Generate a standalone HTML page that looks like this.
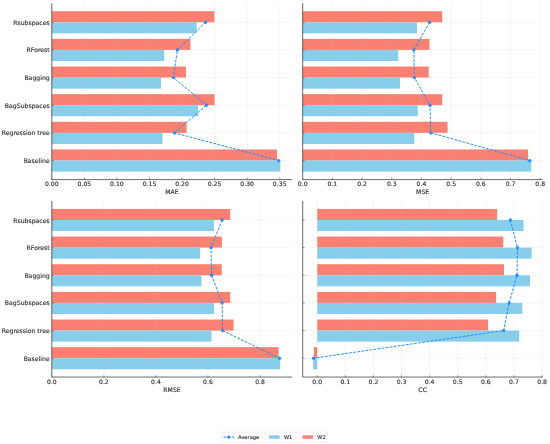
<!DOCTYPE html>
<html><head><meta charset="utf-8"><title>Chart</title>
<style>html,body{margin:0;padding:0;background:#fff}svg{display:block;text-rendering:geometricPrecision}</style>
</head><body>
<svg width="550" height="444" viewBox="0 0 5500 4440" font-family="'DejaVu Sans','Liberation Sans',sans-serif">
<g>
<rect x="518" y="112.2" width="1626" height="110.6" fill="#FA8072"/>
<rect x="518" y="222.8" width="1448.3" height="110.6" fill="#87CEEB"/>
<rect x="518" y="388.7" width="1386.4" height="110.6" fill="#FA8072"/>
<rect x="518" y="499.3" width="1124" height="110.6" fill="#87CEEB"/>
<rect x="518" y="665.2" width="1341.5" height="110.6" fill="#FA8072"/>
<rect x="518" y="775.8" width="1091.4" height="110.6" fill="#87CEEB"/>
<rect x="518" y="941.7" width="1628" height="110.6" fill="#FA8072"/>
<rect x="518" y="1052.3" width="1463.2" height="110.6" fill="#87CEEB"/>
<rect x="518" y="1218.2" width="1348.6" height="110.6" fill="#FA8072"/>
<rect x="518" y="1328.8" width="1107" height="110.6" fill="#87CEEB"/>
<rect x="518" y="1494.7" width="2253.2" height="110.6" fill="#FA8072"/>
<rect x="518" y="1605.3" width="2285.7" height="110.6" fill="#87CEEB"/>
<path d="M518 32V1796.1M843.6 32V1796.1M1169.2 32V1796.1M1494.8 32V1796.1M1820.4 32V1796.1M2146 32V1796.1M2471.6 32V1796.1M2797.2 32V1796.1M518 222.8H2922M518 499.3H2922M518 775.8H2922M518 1052.3H2922M518 1328.8H2922M518 1605.3H2922" stroke="#c4c4c4" stroke-opacity="0.42" stroke-width="4" fill="none"/>
<path d="M2055.2 222.8L1773.2 499.3L1734.4 775.8L2063.6 1052.3L1745.8 1328.8L2787.4 1605.3" stroke="#1E90FF" stroke-width="10" stroke-dasharray="27.5 13.5" fill="none"/>
<circle cx="2055.2" cy="222.8" r="16.5" fill="#1E90FF"/>
<circle cx="1773.2" cy="499.3" r="16.5" fill="#1E90FF"/>
<circle cx="1734.4" cy="775.8" r="16.5" fill="#1E90FF"/>
<circle cx="2063.6" cy="1052.3" r="16.5" fill="#1E90FF"/>
<circle cx="1745.8" cy="1328.8" r="16.5" fill="#1E90FF"/>
<circle cx="2787.4" cy="1605.3" r="16.5" fill="#1E90FF"/>
<path d="M518 32V1796.1H2922" stroke="#444444" stroke-width="8" fill="none"/>
<path d="M518 1796.1v-20M843.6 1796.1v-20M1169.2 1796.1v-20M1494.8 1796.1v-20M1820.4 1796.1v-20M2146 1796.1v-20M2471.6 1796.1v-20M2797.2 1796.1v-20M518 222.8h20M518 499.3h20M518 775.8h20M518 1052.3h20M518 1328.8h20M518 1605.3h20" stroke="#444444" stroke-width="5" fill="none"/>
<text x="518" y="1860.1" font-size="61.5" text-anchor="middle" fill="#333333" stroke="#333333" stroke-width="1.5">0.00</text>
<text x="843.6" y="1860.1" font-size="61.5" text-anchor="middle" fill="#333333" stroke="#333333" stroke-width="1.5">0.05</text>
<text x="1169.2" y="1860.1" font-size="61.5" text-anchor="middle" fill="#333333" stroke="#333333" stroke-width="1.5">0.10</text>
<text x="1494.8" y="1860.1" font-size="61.5" text-anchor="middle" fill="#333333" stroke="#333333" stroke-width="1.5">0.15</text>
<text x="1820.4" y="1860.1" font-size="61.5" text-anchor="middle" fill="#333333" stroke="#333333" stroke-width="1.5">0.20</text>
<text x="2146" y="1860.1" font-size="61.5" text-anchor="middle" fill="#333333" stroke="#333333" stroke-width="1.5">0.25</text>
<text x="2471.6" y="1860.1" font-size="61.5" text-anchor="middle" fill="#333333" stroke="#333333" stroke-width="1.5">0.30</text>
<text x="2797.2" y="1860.1" font-size="61.5" text-anchor="middle" fill="#333333" stroke="#333333" stroke-width="1.5">0.35</text>
<text x="497" y="248.3" font-size="61.5" text-anchor="end" fill="#333333" stroke="#333333" stroke-width="1.5">Rsubspaces</text>
<text x="497" y="524.8" font-size="61.5" text-anchor="end" fill="#333333" stroke="#333333" stroke-width="1.5">RForest</text>
<text x="497" y="801.3" font-size="61.5" text-anchor="end" fill="#333333" stroke="#333333" stroke-width="1.5">Bagging</text>
<text x="497" y="1077.8" font-size="61.5" text-anchor="end" fill="#333333" stroke="#333333" stroke-width="1.5">BagSubspaces</text>
<text x="497" y="1354.3" font-size="61.5" text-anchor="end" fill="#333333" stroke="#333333" stroke-width="1.5">Regression tree</text>
<text x="497" y="1630.8" font-size="61.5" text-anchor="end" fill="#333333" stroke="#333333" stroke-width="1.5">Baseline</text>
<text x="1720" y="1941.1" font-size="61.5" text-anchor="middle" fill="#333333" stroke="#333333" stroke-width="1.5">MAE</text>
</g>
<g>
<rect x="3027" y="112.2" width="1395.1" height="110.6" fill="#FA8072"/>
<rect x="3027" y="222.8" width="1143.1" height="110.6" fill="#87CEEB"/>
<rect x="3027" y="388.7" width="1267.8" height="110.6" fill="#FA8072"/>
<rect x="3027" y="499.3" width="954.8" height="110.6" fill="#87CEEB"/>
<rect x="3027" y="665.2" width="1260" height="110.6" fill="#FA8072"/>
<rect x="3027" y="775.8" width="972.6" height="110.6" fill="#87CEEB"/>
<rect x="3027" y="941.7" width="1395.1" height="110.6" fill="#FA8072"/>
<rect x="3027" y="1052.3" width="1150.8" height="110.6" fill="#87CEEB"/>
<rect x="3027" y="1218.2" width="1448.6" height="110.6" fill="#FA8072"/>
<rect x="3027" y="1328.8" width="1115.2" height="110.6" fill="#87CEEB"/>
<rect x="3027" y="1494.7" width="2253.5" height="110.6" fill="#FA8072"/>
<rect x="3027" y="1605.3" width="2286.1" height="110.6" fill="#87CEEB"/>
<path d="M3027 32V1796.1M3323.9 32V1796.1M3620.8 32V1796.1M3917.7 32V1796.1M4214.6 32V1796.1M4511.5 32V1796.1M4808.4 32V1796.1M5105.3 32V1796.1M5402.2 32V1796.1M3027 222.8H5426M3027 499.3H5426M3027 775.8H5426M3027 1052.3H5426M3027 1328.8H5426M3027 1605.3H5426" stroke="#c4c4c4" stroke-opacity="0.42" stroke-width="4" fill="none"/>
<path d="M4296.1 222.8L4138.3 499.3L4143.3 775.8L4300 1052.3L4308.9 1328.8L5296.8 1605.3" stroke="#1E90FF" stroke-width="10" stroke-dasharray="27.5 13.5" fill="none"/>
<circle cx="4296.1" cy="222.8" r="16.5" fill="#1E90FF"/>
<circle cx="4138.3" cy="499.3" r="16.5" fill="#1E90FF"/>
<circle cx="4143.3" cy="775.8" r="16.5" fill="#1E90FF"/>
<circle cx="4300" cy="1052.3" r="16.5" fill="#1E90FF"/>
<circle cx="4308.9" cy="1328.8" r="16.5" fill="#1E90FF"/>
<circle cx="5296.8" cy="1605.3" r="16.5" fill="#1E90FF"/>
<path d="M3027 32V1796.1H5426" stroke="#444444" stroke-width="8" fill="none"/>
<path d="M3027 1796.1v-20M3323.9 1796.1v-20M3620.8 1796.1v-20M3917.7 1796.1v-20M4214.6 1796.1v-20M4511.5 1796.1v-20M4808.4 1796.1v-20M5105.3 1796.1v-20M5402.2 1796.1v-20M3027 222.8h20M3027 499.3h20M3027 775.8h20M3027 1052.3h20M3027 1328.8h20M3027 1605.3h20" stroke="#444444" stroke-width="5" fill="none"/>
<text x="3027" y="1860.1" font-size="61.5" text-anchor="middle" fill="#333333" stroke="#333333" stroke-width="1.5">0.0</text>
<text x="3323.9" y="1860.1" font-size="61.5" text-anchor="middle" fill="#333333" stroke="#333333" stroke-width="1.5">0.1</text>
<text x="3620.8" y="1860.1" font-size="61.5" text-anchor="middle" fill="#333333" stroke="#333333" stroke-width="1.5">0.2</text>
<text x="3917.7" y="1860.1" font-size="61.5" text-anchor="middle" fill="#333333" stroke="#333333" stroke-width="1.5">0.3</text>
<text x="4214.6" y="1860.1" font-size="61.5" text-anchor="middle" fill="#333333" stroke="#333333" stroke-width="1.5">0.4</text>
<text x="4511.5" y="1860.1" font-size="61.5" text-anchor="middle" fill="#333333" stroke="#333333" stroke-width="1.5">0.5</text>
<text x="4808.4" y="1860.1" font-size="61.5" text-anchor="middle" fill="#333333" stroke="#333333" stroke-width="1.5">0.6</text>
<text x="5105.3" y="1860.1" font-size="61.5" text-anchor="middle" fill="#333333" stroke="#333333" stroke-width="1.5">0.7</text>
<text x="5402.2" y="1860.1" font-size="61.5" text-anchor="middle" fill="#333333" stroke="#333333" stroke-width="1.5">0.8</text>
<text x="4226.5" y="1941.1" font-size="61.5" text-anchor="middle" fill="#333333" stroke="#333333" stroke-width="1.5">MSE</text>
</g>
<g>
<rect x="518" y="2089.2" width="1784.4" height="110.6" fill="#FA8072"/>
<rect x="518" y="2199.8" width="1621.1" height="110.6" fill="#87CEEB"/>
<rect x="518" y="2365.7" width="1701.1" height="110.6" fill="#FA8072"/>
<rect x="518" y="2476.3" width="1483.7" height="110.6" fill="#87CEEB"/>
<rect x="518" y="2642.2" width="1699.8" height="110.6" fill="#FA8072"/>
<rect x="518" y="2752.8" width="1496.7" height="110.6" fill="#87CEEB"/>
<rect x="518" y="2918.7" width="1784.4" height="110.6" fill="#FA8072"/>
<rect x="518" y="3029.3" width="1623" height="110.6" fill="#87CEEB"/>
<rect x="518" y="3195.2" width="1818.2" height="110.6" fill="#FA8072"/>
<rect x="518" y="3305.8" width="1596.9" height="110.6" fill="#87CEEB"/>
<rect x="518" y="3471.7" width="2267.7" height="110.6" fill="#FA8072"/>
<rect x="518" y="3582.3" width="2284.1" height="110.6" fill="#87CEEB"/>
<path d="M518 2009V3773.1M1038.6 2009V3773.1M1559.2 2009V3773.1M2079.8 2009V3773.1M2600.4 2009V3773.1M518 2199.8H2922M518 2476.3H2922M518 2752.8H2922M518 3029.3H2922M518 3305.8H2922M518 3582.3H2922" stroke="#c4c4c4" stroke-opacity="0.42" stroke-width="4" fill="none"/>
<path d="M2220.8 2199.8L2110.4 2476.3L2116.2 2752.8L2221.7 3029.3L2225.6 3305.8L2793.9 3582.3" stroke="#1E90FF" stroke-width="10" stroke-dasharray="27.5 13.5" fill="none"/>
<circle cx="2220.8" cy="2199.8" r="16.5" fill="#1E90FF"/>
<circle cx="2110.4" cy="2476.3" r="16.5" fill="#1E90FF"/>
<circle cx="2116.2" cy="2752.8" r="16.5" fill="#1E90FF"/>
<circle cx="2221.7" cy="3029.3" r="16.5" fill="#1E90FF"/>
<circle cx="2225.6" cy="3305.8" r="16.5" fill="#1E90FF"/>
<circle cx="2793.9" cy="3582.3" r="16.5" fill="#1E90FF"/>
<path d="M518 2009V3770.6H2922" stroke="#444444" stroke-width="8" fill="none"/>
<path d="M518 3773.1v-20M1038.6 3773.1v-20M1559.2 3773.1v-20M2079.8 3773.1v-20M2600.4 3773.1v-20M518 2199.8h20M518 2476.3h20M518 2752.8h20M518 3029.3h20M518 3305.8h20M518 3582.3h20" stroke="#444444" stroke-width="5" fill="none"/>
<text x="518" y="3836.1" font-size="61.5" text-anchor="middle" fill="#333333" stroke="#333333" stroke-width="1.5">0.0</text>
<text x="1038.6" y="3836.1" font-size="61.5" text-anchor="middle" fill="#333333" stroke="#333333" stroke-width="1.5">0.2</text>
<text x="1559.2" y="3836.1" font-size="61.5" text-anchor="middle" fill="#333333" stroke="#333333" stroke-width="1.5">0.4</text>
<text x="2079.8" y="3836.1" font-size="61.5" text-anchor="middle" fill="#333333" stroke="#333333" stroke-width="1.5">0.6</text>
<text x="2600.4" y="3836.1" font-size="61.5" text-anchor="middle" fill="#333333" stroke="#333333" stroke-width="1.5">0.8</text>
<text x="497" y="2225.3" font-size="61.5" text-anchor="end" fill="#333333" stroke="#333333" stroke-width="1.5">Rsubspaces</text>
<text x="497" y="2501.8" font-size="61.5" text-anchor="end" fill="#333333" stroke="#333333" stroke-width="1.5">RForest</text>
<text x="497" y="2778.3" font-size="61.5" text-anchor="end" fill="#333333" stroke="#333333" stroke-width="1.5">Bagging</text>
<text x="497" y="3054.8" font-size="61.5" text-anchor="end" fill="#333333" stroke="#333333" stroke-width="1.5">BagSubspaces</text>
<text x="497" y="3331.3" font-size="61.5" text-anchor="end" fill="#333333" stroke="#333333" stroke-width="1.5">Regression tree</text>
<text x="497" y="3607.8" font-size="61.5" text-anchor="end" fill="#333333" stroke="#333333" stroke-width="1.5">Baseline</text>
<text x="1720" y="3922.1" font-size="61.5" text-anchor="middle" fill="#333333" stroke="#333333" stroke-width="1.5">RMSE</text>
</g>
<g>
<rect x="3172" y="2089.2" width="1799" height="110.6" fill="#FA8072"/>
<rect x="3172" y="2199.8" width="2063.3" height="110.6" fill="#87CEEB"/>
<rect x="3172" y="2365.7" width="1860.9" height="110.6" fill="#FA8072"/>
<rect x="3172" y="2476.3" width="2144.8" height="110.6" fill="#87CEEB"/>
<rect x="3172" y="2642.2" width="1867.9" height="110.6" fill="#FA8072"/>
<rect x="3172" y="2752.8" width="2127.9" height="110.6" fill="#87CEEB"/>
<rect x="3172" y="2918.7" width="1788.9" height="110.6" fill="#FA8072"/>
<rect x="3172" y="3029.3" width="2051.2" height="110.6" fill="#87CEEB"/>
<rect x="3172" y="3195.2" width="1709.1" height="110.6" fill="#FA8072"/>
<rect x="3172" y="3305.8" width="2020.5" height="110.6" fill="#87CEEB"/>
<rect x="3139.1" y="3471.7" width="32.9" height="110.6" fill="#FA8072"/>
<rect x="3131.5" y="3582.3" width="40.5" height="110.6" fill="#87CEEB"/>
<path d="M3172 2009V3773.1M3453.1 2009V3773.1M3734.2 2009V3773.1M4015.3 2009V3773.1M4296.4 2009V3773.1M4577.5 2009V3773.1M4858.6 2009V3773.1M5139.7 2009V3773.1M5420.8 2009V3773.1M3027 2199.8H5426M3027 2476.3H5426M3027 2752.8H5426M3027 3029.3H5426M3027 3305.8H5426M3027 3582.3H5426" stroke="#c4c4c4" stroke-opacity="0.42" stroke-width="4" fill="none"/>
<path d="M5103.2 2199.8L5174.8 2476.3L5169.9 2752.8L5092.1 3029.3L5036.8 3305.8L3135.3 3582.3" stroke="#1E90FF" stroke-width="10" stroke-dasharray="27.5 13.5" fill="none"/>
<circle cx="5103.2" cy="2199.8" r="16.5" fill="#1E90FF"/>
<circle cx="5174.8" cy="2476.3" r="16.5" fill="#1E90FF"/>
<circle cx="5169.9" cy="2752.8" r="16.5" fill="#1E90FF"/>
<circle cx="5092.1" cy="3029.3" r="16.5" fill="#1E90FF"/>
<circle cx="5036.8" cy="3305.8" r="16.5" fill="#1E90FF"/>
<circle cx="3135.3" cy="3582.3" r="16.5" fill="#1E90FF"/>
<path d="M3027 2009V3770.6H5426" stroke="#444444" stroke-width="8" fill="none"/>
<path d="M3172 3773.1v-20M3453.1 3773.1v-20M3734.2 3773.1v-20M4015.3 3773.1v-20M4296.4 3773.1v-20M4577.5 3773.1v-20M4858.6 3773.1v-20M5139.7 3773.1v-20M5420.8 3773.1v-20M3027 2199.8h20M3027 2476.3h20M3027 2752.8h20M3027 3029.3h20M3027 3305.8h20M3027 3582.3h20" stroke="#444444" stroke-width="5" fill="none"/>
<text x="3172" y="3836.1" font-size="61.5" text-anchor="middle" fill="#333333" stroke="#333333" stroke-width="1.5">0.0</text>
<text x="3453.1" y="3836.1" font-size="61.5" text-anchor="middle" fill="#333333" stroke="#333333" stroke-width="1.5">0.1</text>
<text x="3734.2" y="3836.1" font-size="61.5" text-anchor="middle" fill="#333333" stroke="#333333" stroke-width="1.5">0.2</text>
<text x="4015.3" y="3836.1" font-size="61.5" text-anchor="middle" fill="#333333" stroke="#333333" stroke-width="1.5">0.3</text>
<text x="4296.4" y="3836.1" font-size="61.5" text-anchor="middle" fill="#333333" stroke="#333333" stroke-width="1.5">0.4</text>
<text x="4577.5" y="3836.1" font-size="61.5" text-anchor="middle" fill="#333333" stroke="#333333" stroke-width="1.5">0.5</text>
<text x="4858.6" y="3836.1" font-size="61.5" text-anchor="middle" fill="#333333" stroke="#333333" stroke-width="1.5">0.6</text>
<text x="5139.7" y="3836.1" font-size="61.5" text-anchor="middle" fill="#333333" stroke="#333333" stroke-width="1.5">0.7</text>
<text x="5420.8" y="3836.1" font-size="61.5" text-anchor="middle" fill="#333333" stroke="#333333" stroke-width="1.5">0.8</text>
<text x="4226.5" y="3922.1" font-size="61.5" text-anchor="middle" fill="#333333" stroke="#333333" stroke-width="1.5">CC</text>
</g>
<rect x="2213" y="4321" width="1060" height="100" rx="10" fill="#fff" stroke="#d4d4d4" stroke-width="4"/>
<path d="M2234 4371H2341" stroke="#1E90FF" stroke-width="10" stroke-dasharray="27.5 13.5"/>
<circle cx="2287.5" cy="4371" r="16.5" fill="#1E90FF"/>
<text x="2381" y="4389" font-size="51.5" text-anchor="start" fill="#333333" stroke="#333333" stroke-width="1.5">Average</text>
<rect x="2691" y="4353" width="105" height="35" fill="#87CEEB"/>
<text x="2839" y="4389" font-size="51.5" text-anchor="start" fill="#333333" stroke="#333333" stroke-width="1.5">W1</text>
<rect x="3026" y="4353" width="105" height="35" fill="#FA8072"/>
<text x="3173" y="4389" font-size="51.5" text-anchor="start" fill="#333333" stroke="#333333" stroke-width="1.5">W2</text>
</svg>
</body></html>
